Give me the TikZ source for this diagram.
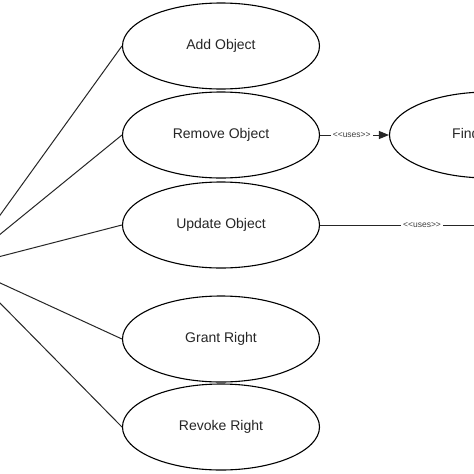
\documentclass[tikz,border=0pt]{standalone}
\usepackage{fontspec}
\setmainfont{Liberation Sans}
\usetikzlibrary{shapes.geometric,arrows.meta}
\newcommand{\usestext}{<\kern0pt<\kern0pt uses\kern0pt>\kern0pt>}
\begin{document}
\begin{tikzpicture}[x=1pt,y=-1pt,
  usecase/.style={draw,ellipse,line width=1.1pt,minimum width=197pt,minimum height=86pt,inner sep=0pt,font=\fontsize{14}{15}\selectfont,text=black!85},
  assoc/.style={line width=1pt,draw=black!85},
  uses/.style={fill=white,inner sep=2pt,font=\fontsize{8.5}{9}\selectfont,text=black!75}]
\useasboundingbox (0,0) rectangle (474,474);
\clip (0,0) rectangle (474,474);
\fill[white] (0,0) rectangle (474,474);
\node[usecase] (e1) at (221,46) {Add Object};
\node[usecase] (e2) at (221,135) {Remove Object};
\node[usecase] (e3) at (221,225) {Update Object};
\node[usecase] (e4) at (221,339) {Grant Right};
\node[usecase] (e5) at (221,427) {Revoke Right};
\node[usecase] (find) at (488,135) {Find Object};
\coordinate (a1) at (-2,218);
\coordinate (a2) at (-2,236);
\coordinate (a3) at (-2,257);
\coordinate (a4) at (-2,282);
\coordinate (a5) at (-2,301);
\coordinate (u2) at (524,225);
\draw[assoc] (a1) -- (e1.west);
\draw[assoc] (a2) -- (e2.west);
\draw[assoc] (a3) -- (e3.west);
\draw[assoc] (a4) -- (e4.west);
\draw[assoc] (a5) -- (e5.west);
\draw[assoc,-{Triangle[length=10pt,width=8pt]}] (e2.east) -- node[uses,pos=0.46]{\usestext} (find.west);
\draw[assoc] (e3.east) -- node[uses]{\usestext} (u2);
\end{tikzpicture}
\end{document}
